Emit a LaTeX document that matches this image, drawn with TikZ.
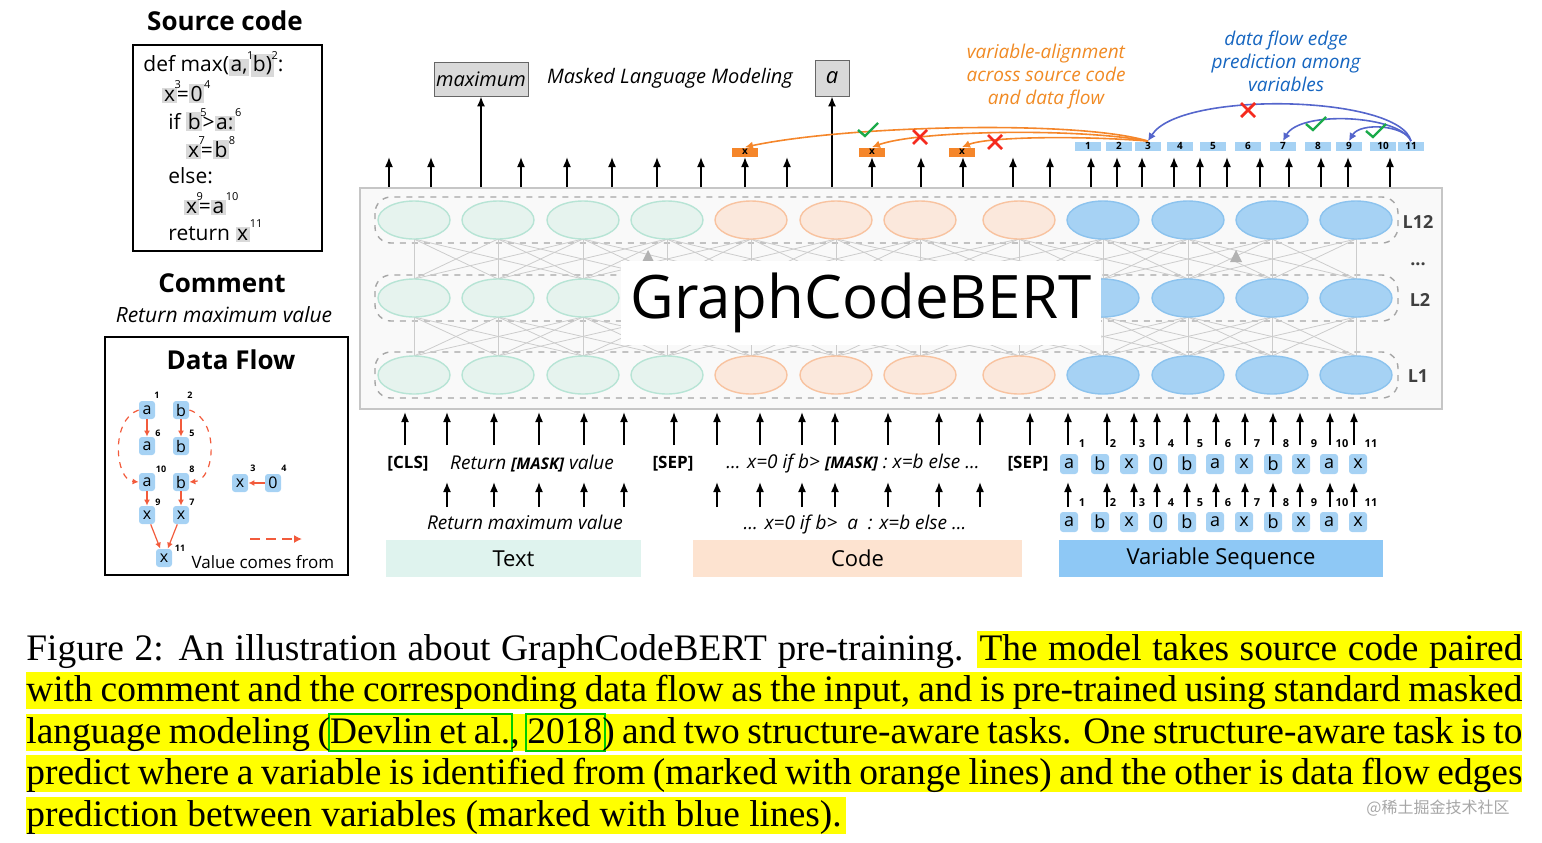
\documentclass[tikz,border=0pt]{standalone}
\usepackage{fontspec}
\setmainfont{Open Sans}
\newfontfamily\capfont{Liberation Serif}
\newfontfamily\cjk{Noto Sans CJK SC}
\usetikzlibrary{arrows.meta,shapes.geometric}
\definecolor{tgreen}{HTML}{E6F3EE}\definecolor{tgreenb}{HTML}{B7E4D5}
\definecolor{corange}{HTML}{FBE8DC}\definecolor{coranb}{HTML}{F8C3A0}
\definecolor{vblue}{HTML}{A6D2F4}\definecolor{vblueb}{HTML}{8CC3EE}
\definecolor{barblue}{HTML}{8EC8F5}\definecolor{bartext}{HTML}{DFF3EE}\definecolor{barcode}{HTML}{FDE3D0}
\definecolor{orl}{HTML}{F5862A}\definecolor{bll}{HTML}{5566CC}\definecolor{otxt}{HTML}{F08A24}\definecolor{btxt}{HTML}{1565C0}
\definecolor{rx}{HTML}{F52A1E}\definecolor{gk}{HTML}{1AAA4A}\definecolor{yl}{HTML}{FFFF00}\definecolor{dfred}{HTML}{F25B3C}
\newcommand\hlt[1]{{\setlength\fboxsep{0.8pt}\colorbox{gray!30}{#1}}}
\newcommand\sps[1]{\raisebox{1.1ex}{\fontsize{5.5}{5.5}\selectfont #1}}
\newcommand\fs[1]{\fontsize{#1}{#1}\selectfont}
\tikzset{
 uparr/.style={-{Latex[length=5pt,width=4pt]},line width=0.8pt},
 vbox/.style={fill=vblue,rounded corners=1.5pt,inner sep=0pt,minimum width=9pt,minimum height=10pt,font=\fs{9}},
 vnum/.style={fill=vblue,inner sep=0pt,minimum width=13pt,minimum height=4.5pt,font=\fs{5}\bfseries},
 dfbox/.style={fill=vblue,rounded corners=1.5pt,inner sep=0pt,minimum width=8pt,minimum height=9pt,font=\fs{8}},
 dfn/.style={font=\fs{4.5}\bfseries,inner sep=0pt},
 dfa/.style={-{Latex[length=3pt,width=3pt]},dfred,line width=0.6pt},
 ox/.style={fill=orl,inner sep=0pt,minimum width=13pt,minimum height=4.5pt,font=\fs{5}\bfseries},
 xline/.style={rx,line width=1.4pt},
 ckmark/.style={gk,line width=1.2pt},
 bar/.style={inner sep=0pt,font=\fs{11}}
}
\begin{document}
\begin{tikzpicture}[x=0.5pt,y=-0.5pt]
\useasboundingbox (0,0) rectangle (1542,842);
% ---------- Source code
\node[font=\fs{13}\bfseries] (sct) at (225,21) {Source code};
\draw[line width=0.8pt] (133,45) rectangle (322,251);
\begin{scope}[every node/.style={anchor=west,font=\fs{10.5},inner sep=0pt}]
\node (c1) at (143,64) {def max(\hlt{a,}\kern-1pt\sps{1}\kern-1pt\hlt{b)}\kern-1pt\sps{2}:};
\node (c2) at (162,92) {\hlt{x}\kern-1pt\sps{3}\kern-2pt=\hlt{0}\sps{4}};
\node (c3) at (168,120) {if \hlt{b}\kern-1pt\sps{5}\kern-2pt>\hlt{a:}\sps{6}};
\node (c4) at (186,148) {\hlt{x}\kern-1pt\sps{7}\kern-2pt=\hlt{b}\sps{8}};
\node (c5) at (168,176) {else:};
\node (c6) at (184,204) {\hlt{x}\kern-1pt\sps{9}\kern-2pt=\hlt{a}\sps{10}};
\node (c7) at (168,231) {return \hlt{x}\sps{11}};
\end{scope}
% ---------- Comment
\node[font=\fs{13}\bfseries] (cmt) at (222,283) {Comment};
\node[font=\fs{10.5}\itshape] (cmtt) at (224,315) {Return maximum value};
% ---------- Data flow
\draw[line width=0.8pt] (105,337) rectangle (348,575);
\node[font=\fs{13}\bfseries] (dft) at (231,360) {Data Flow};
\node[dfbox] (d1) at (147,410) {a}; \node[dfn] at (157,395) {1};
\node[dfbox] (d2) at (181,410) {b}; \node[dfn] at (190,395) {2};
\node[dfbox] (d6) at (147,446) {a}; \node[dfn] at (158,433) {6};
\node[dfbox] (d5) at (181,446) {b}; \node[dfn] at (192,433) {5};
\node[dfbox] (d10) at (147,482) {a}; \node[dfn] at (161,469) {10};
\node[dfbox] (d8) at (181,482) {b}; \node[dfn] at (192,469) {8};
\node[dfbox] (d9) at (147,515) {x}; \node[dfn] at (158,502) {9};
\node[dfbox] (d7) at (181,515) {x}; \node[dfn] at (192,502) {7};
\node[dfbox] (d11) at (164,558) {x}; \node[dfn] at (180,548) {11};
\node[dfbox] (d3) at (240,483) {x}; \node[dfn] at (253,468) {3};
\node[dfbox] (d4) at (273,483) {0}; \node[dfn] at (284,468) {4};
\draw[dfa] (d1)--(d6); \draw[dfa] (d2)--(d5);
\draw[dfa] (d10)--(d9); \draw[dfa] (d8)--(d7);
\draw[dfa] (d9)--(d11); \draw[dfa] (d7)--(d11);
\draw[dfa] (d4)--(d3);
\draw[dfa,dashed] (d1.west) .. controls (110,420) and (115,480) .. (d10.west);
\draw[dfa,dashed] (d2.east) .. controls (220,420) and (215,480) .. (d8.east);
\coordinate (lg1) at (250,539); \coordinate (lg2) at (302,539);
\draw[-{Latex[length=4pt,width=4pt]},dfred,line width=0.7pt,dash pattern=on 5pt off 3pt] (lg1)--(lg2);
\node[font=\fs{8.5}] (lgt) at (263,562) {Value comes from};
% ---------- Main model box
\draw[gray!45,fill=gray!5,line width=0.8pt] (360,188) rectangle (1442,409);
\foreach \yy/\nm in {220/L12,298/L2,375/L1}{
  \draw[gray!70,dashed,rounded corners=8pt,line width=0.7pt] (375,\yy-23) rectangle (1398,\yy+23);
}
\def\xs{414,498,583,667,751,836,920,1019,1103,1188,1272,1356}
\foreach \ya/\yb in {220/298,298/375}{
 \foreach \xa [count=\i] in \xs {
  \foreach \xb [count=\j] in \xs {
   \pgfmathtruncatemacro\dd{abs(\i-\j)}
   \ifnum\dd<3 \draw[gray!40,line width=0.4pt] (\xa,\ya+19) -- (\xb,\yb-19);\fi
  }}}
\foreach \yy in {220,298,375}{
 \foreach \xx [count=\i] in \xs {
  \ifnum\i<5 \def\fc{tgreen}\def\bc{tgreenb}\else\ifnum\i<9 \def\fc{corange}\def\bc{coranb}\else\def\fc{vblue}\def\bc{vblueb}\fi\fi
  \draw[fill=\fc,draw=\bc,line width=0.7pt] (\xx,\yy) ellipse [x radius=36, y radius=19];
 }}
\fill[gray!60] (648,250) -- (642,262) -- (654,262) -- cycle;
\fill[gray!60] (1236,250) -- (1230,262) -- (1242,262) -- cycle;
\node[fill=white,minimum width=240pt,minimum height=42pt,inner sep=0pt,font=\fs{30}] (gcb) at (861,303) {GraphCodeBERT};
\node[font=\fs{9}\bfseries,text=black!75] (l12) at (1418,222) {L12};
\node[font=\fs{9}\bfseries,text=black!75] (ldots) at (1418,264) {...};
\node[font=\fs{9}\bfseries,text=black!75] (l2) at (1420,300) {L2};
\node[font=\fs{9}\bfseries,text=black!75] (l1) at (1418,376) {L1};
% ---------- top arrows
\foreach \xx in {389,431,521,567,612,657,701,745,787,872,921,963,1013,1050,1091,1117,1142,1174,1200,1227,1260,1289,1321,1348,1390}{
  \draw[uparr] (\xx,187) -- (\xx,157);}
\node[draw=black!60,fill=gray!30,font=\fs{10}\itshape,minimum width=47pt,minimum height=17pt,inner sep=0pt] (mx) at (481,79) {maximum};
\node[draw=black!60,fill=gray!30,font=\fs{11}\itshape,minimum width=17pt,minimum height=18pt,inner sep=0pt] (ma) at (832,78) {a};
\draw[uparr] (481,187) -- (mx.south);
\draw[uparr] (832,187) -- (ma.south);
\node[font=\fs{10}\itshape] (mlm) at (670,78) {Masked Language Modeling};
\foreach \xx [count=\i] in {1088,1119,1148,1180,1213,1248,1283,1318,1349,1383,1411}{
  \node[vnum] (v\i) at (\xx,146) {\i};}
\node[ox] (o1) at (745,152) {x};
\node[ox] (o2) at (872,152) {x};
\node[ox] (o3) at (962,152) {x};
\draw[orl,line width=0.8pt,-{Latex[length=4pt,width=4pt]}] (v3.north) .. controls (1080,120) and (850,125) .. (o1.north);
\draw[orl,line width=0.8pt,-{Latex[length=4pt,width=4pt]}] (v3.north) .. controls (1080,128) and (920,130) .. (o2.north);
\draw[orl,line width=0.8pt,-{Latex[length=4pt,width=4pt]}] (v3.north) .. controls (1090,136) and (990,136) .. (o3.north);
\draw[bll,line width=0.8pt,-{Latex[length=4pt,width=4pt]}] (v11.north) .. controls (1400,95) and (1180,90) .. (v3.north);
\draw[bll,line width=0.8pt,-{Latex[length=4pt,width=4pt]}] (v11.north) .. controls (1400,115) and (1300,110) .. (v7.north);
\draw[bll,line width=0.8pt,-{Latex[length=4pt,width=4pt]}] (v11.north) .. controls (1405,125) and (1360,122) .. (v9.north);
\foreach \cx/\cy in {920/137,995/142,1248/110}{
  \draw[xline] (\cx-7,\cy-7) -- (\cx+7,\cy+7) (\cx-7,\cy+7) -- (\cx+7,\cy-7);}
\draw[ckmark] (858,130) -- (865,136) -- (878,123);
\draw[ckmark] (1306,124) -- (1313,130) -- (1326,117);
\draw[ckmark] (1366,131) -- (1373,137) -- (1386,124);
\node[font=\fs{9.5}\itshape,text=otxt,align=center,inner sep=0pt] (otx) at (1046,77) {variable-alignment\\[2pt]across source code\\[2pt]and data flow};
\node[font=\fs{9.5}\itshape,text=btxt,align=center,inner sep=0pt] (btx) at (1286,61) {data flow edge\\[2pt]prediction among\\[2pt]variables};
% ---------- bottom arrows
\foreach \xx in {405,447,494,539,584,624,674,717,760,802,835,888,939,980,1030,1068,1107,1134,1157,1187,1216,1245,1273,1300,1330,1354}{
  \draw[uparr] (\xx,445) -- (\xx,412);}
\foreach \xx in {447,494,539,584,624,717,760,802,835,888,939,980,1068,1107,1134,1157,1187,1216,1245,1273,1300,1330,1354}{
  \draw[uparr] (\xx,507) -- (\xx,482);}
\node[font=\fs{8.5}\bfseries] (cls) at (408,464) {[CLS]};
\node[font=\fs{9.5}\itshape] (rmv) at (532,464) {Return {\fs{8}\bfseries [MASK]} value};
\node[font=\fs{8.5}\bfseries] (sep1) at (673,464) {[SEP]};
\node[font=\fs{9.5}\itshape] (cmk) at (853,464) {... x=0 if b> {\fs{8}\bfseries [MASK]} : x=b else ...};
\node[font=\fs{8.5}\bfseries] (sep2) at (1028,464) {[SEP]};
\node[font=\fs{9.5}\itshape] (rmv2) at (525,522) {Return maximum value};
\node[font=\fs{9.5}\itshape] (cod2) at (855,524) {... x=0 if b>\ \ a\ \ : x=b else ...};
\foreach \ch [count=\i] in {a,b,x,0,b,a,x,b,x,a,x}{
  \pgfmathsetmacro\xx{{1069,1100,1129,1158,1187,1215,1244,1273,1301,1329,1358}[\i-1]}
  \node[vbox] (ia\i) at (\xx,464) {\ch};
  \node[font=\fs{5.5}\bfseries,inner sep=0pt] at (\xx+13,444) {\i};
  \node[vbox] (ib\i) at (\xx,522) {\ch};
  \node[font=\fs{5.5}\bfseries,inner sep=0pt] at (\xx+13,503) {\i};
}
\node[bar,fill=bartext,minimum width=127.5pt,minimum height=18.5pt] (btext) at (513.5,558.5) {Text};
\node[bar,fill=barcode,minimum width=164.5pt,minimum height=18.5pt] (bcode) at (857.5,558.5) {Code};
\node[bar,fill=barblue,minimum width=162pt,minimum height=18.5pt] (bvar) at (1221,558.5) {Variable Sequence};
% ---------- caption
\fill[yl] (977,631) rectangle (1522,668);
\fill[yl] (26,672) rectangle (1522,709);
\fill[yl] (26,714) rectangle (1522,751);
\fill[yl] (26,755) rectangle (1522,792);
\fill[yl] (26,797) rectangle (846,834);
\draw[green!80!black,line width=1.2pt] (329,714) rectangle (512,751);
\draw[green!80!black,line width=1.2pt] (526,714) rectangle (605,751);
\begin{scope}[every node/.style={anchor=base west,inner sep=0pt,font=\capfont\fs{18.7}}]
\node (cap1) at (26,660) {\makebox[748pt][s]{Figure 2: An illustration about GraphCodeBERT pre-training. The model takes source code paired}};
\node (cap2) at (26,701) {\makebox[748pt][s]{with comment and the corresponding data flow as the input, and is pre-trained using standard masked}};
\node (cap3) at (26,743) {\makebox[748pt][s]{language modeling (Devlin et al., 2018) and two structure-aware tasks. One structure-aware task is to}};
\node (cap4) at (26,784) {\makebox[748pt][s]{predict where a variable is identified from (marked with orange lines) and the other is data flow edges}};
\node (cap5) at (26,826) {prediction between variables (marked with blue lines).};
\end{scope}
\node[font=\cjk\fs{8},text=gray!70] (wm) at (1438,808) {@稀土掘金技术社区};
\end{tikzpicture}
\end{document}
